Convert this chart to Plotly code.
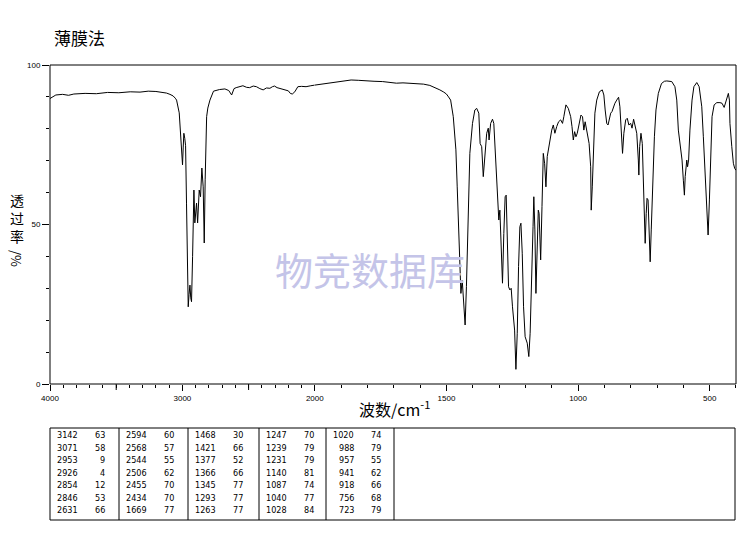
import plotly.graph_objects as go

# ---------------- spectrum data (wavenumber cm^-1, transmittance %) ----------------
wavenumber = [
    4000, 3956, 3905, 3860, 3820, 3735, 3650, 3565, 3480, 3394, 3320, 3258, 3200, 3156, 3120,
    3094, 3070, 3054, 3044, 3024, 3014, 3006, 2999, 2994, 2989, 2982, 2976, 2969, 2961, 2956,
    2950, 2943, 2937, 2931, 2923, 2913, 2906, 2900, 2893, 2885, 2873, 2863, 2853, 2843, 2835,
    2828, 2817, 2808, 2792, 2765, 2720, 2679, 2650, 2628, 2610, 2594, 2570, 2543, 2515, 2492,
    2465, 2441, 2415, 2390, 2365, 2339, 2320, 2304, 2285, 2270, 2245, 2219, 2200, 2185, 2170,
    2151, 2128, 2100, 2066, 2030, 2000,
    1970, 1948, 1920, 1896, 1862, 1835, 1810, 1775, 1742, 1715, 1690, 1665, 1639, 1610, 1587,
    1563, 1536, 1525, 1510, 1500, 1492, 1484, 1474, 1464, 1459, 1451, 1445, 1440, 1436, 1429,
    1424, 1416, 1411, 1401, 1392, 1385, 1377, 1372, 1366, 1360, 1354, 1347, 1341, 1338, 1332,
    1325, 1320, 1312, 1306, 1301, 1297, 1292, 1287, 1282, 1277, 1273, 1268, 1264, 1259, 1254,
    1249, 1241, 1236, 1231, 1226, 1221, 1217, 1212, 1207, 1201, 1193, 1187, 1182, 1176, 1171,
    1168, 1164, 1160, 1156, 1151, 1148, 1142, 1137, 1132, 1127, 1122, 1117, 1110, 1100, 1094,
    1088, 1081, 1074, 1066, 1059, 1054, 1046, 1037, 1028, 1023, 1018, 1013, 1008, 1003, 996,
    989, 983, 978, 973, 965, 958, 952, 950, 946, 942, 936, 929, 919, 908, 902,
    897, 891, 886, 881, 876, 871, 866, 860, 853, 846, 841, 836, 831, 826, 819,
    813, 807, 800, 795, 789, 784, 777, 771, 769, 766, 761, 756, 752, 748, 745,
    741, 738, 734, 732, 729, 726, 722, 717, 710, 704, 695, 683, 672, 663, 654,
    644, 632, 625, 619, 610, 605, 600, 596, 593, 587, 584, 580, 575, 567, 560,
    549, 540, 530, 524, 518, 511, 506, 501, 496, 491, 483, 473, 461, 453, 445,
    440, 435, 429, 425, 423, 416, 410, 405, 400,
]
transmittance = [
    89.5, 90.6, 90.8, 90.5, 90.9, 91.1, 91.0, 91.4, 91.3, 91.6, 91.5, 91.8, 91.7, 91.5, 91.2,
    90.8, 90.3, 89.6, 89.0, 85.0, 79.6, 72.4, 68.7, 74.0, 78.6, 77.0, 74.7, 56.7, 31.7, 24.2,
    28.0, 31.0, 27.0, 25.8, 39.9, 60.8, 50.5, 55.0, 56.7, 50.5, 60.8, 58.7, 67.7, 61.8, 44.2,
    64.0, 83.8, 86.5, 89.0, 91.8, 92.3, 92.5, 92.0, 90.6, 92.6, 92.9, 93.2, 93.5, 93.0, 92.9,
    93.4, 93.2, 92.6, 92.2, 92.8, 92.7, 93.2, 93.4, 92.9, 92.7, 92.5, 92.2, 91.9, 91.1, 90.9,
    91.6, 93.2, 93.3, 93.2, 93.5, 93.7,
    94.0, 94.3, 94.5, 94.8, 95.3, 95.2, 95.0, 94.9, 94.8, 94.6, 94.3, 94.4, 94.3, 94.1, 94.0,
    93.6, 92.7, 92.2, 91.5, 90.9, 90.0, 89.0, 83.8, 73.4, 61.8, 43.0, 28.4, 32.6, 27.4, 18.5,
    30.5, 53.5, 72.3, 81.7, 85.9, 86.4, 84.9, 75.4, 74.4, 65.0, 71.3, 78.6, 80.2, 76.5, 81.7,
    83.0, 81.7, 68.1, 55.6, 51.4, 54.5, 41.0, 31.6, 47.2, 58.7, 59.2, 46.2, 30.5, 29.5, 30.0,
    24.2, 16.9, 4.6, 15.9, 36.8, 49.3, 50.4, 41.0, 24.2, 14.8, 12.8, 8.6, 15.9, 30.5, 49.3,
    58.7, 48.3, 28.4, 43.0, 54.5, 53.5, 38.9, 55.6, 72.3, 69.2, 61.8, 71.3, 75.4, 79.6, 81.2,
    78.6, 80.7, 82.2, 82.8, 81.7, 83.8, 87.5, 86.4, 83.8, 80.7, 76.5, 79.1, 77.5, 78.6, 81.7,
    84.3, 83.8, 79.6, 82.2, 79.1, 75.4, 68.1, 54.5, 61.8, 74.4, 84.9, 89.0, 91.6, 92.2, 90.6,
    85.9, 81.7, 81.2, 83.3, 84.9, 85.4, 86.9, 88.0, 89.0, 89.9, 86.9, 79.6, 72.3, 78.6, 82.8,
    83.3, 81.2, 81.7, 80.2, 83.0, 81.2, 78.6, 70.2, 65.5, 74.4, 78.6, 75.4, 63.9, 51.4, 44.1,
    53.5, 58.2, 57.7, 51.4, 45.1, 38.3, 48.3, 63.9, 77.5, 85.9, 91.1, 94.2, 94.9, 95.0, 95.0,
    94.8, 93.2, 89.0, 79.6, 74.4, 70.2, 63.9, 59.2, 65.0, 70.2, 68.1, 70.2, 79.6, 89.0, 93.2,
    94.5, 93.2, 86.9, 77.5, 66.0, 55.6, 46.7, 57.7, 74.4, 83.8, 87.5, 88.2, 88.2, 88.0, 86.7,
    88.0, 89.6, 91.1, 89.0, 81.7, 74.4, 69.2, 67.6, 67.0,
]

# axis tick labels
left_tickvals = [4000, 3000, 2000]
left_ticktext = ["4000", "3000", "2000"]
right_tickvals = [1500, 1000, 500]
right_ticktext = ["1500", "1000", "500"]
y_tickvals = [0, 50, 100]
y_ticktext = ["0", "50", "100"]

# peak table (wavenumber, transmittance), column by column
table_wn = [
    [3142, 3071, 2953, 2926, 2854, 2846, 2631],
    [2594, 2568, 2544, 2506, 2455, 2434, 1669],
    [1468, 1421, 1377, 1366, 1345, 1293, 1263],
    [1247, 1239, 1231, 1140, 1087, 1040, 1028],
    [1020, 988, 957, 941, 918, 756, 723],
]
table_val = [
    [63, 58, 9, 4, 12, 53, 66],
    [60, 57, 55, 62, 70, 70, 77],
    [30, 66, 52, 66, 77, 77, 77],
    [70, 79, 79, 81, 74, 77, 84],
    [74, 79, 55, 62, 66, 68, 79],
]

title_text = "薄膜法"
x_title = "波数/cm<sup>-1</sup>"
y_title_upright = "透<br>过<br>率"
y_title_rotated = "/%"
watermark = "物竞数据库"

# ---------------- layout helpers (pixel -> paper) ----------------
W, H = 748, 539
L, R, T, B = 50, 12, 65, 155
PW, PH = W - L - R, H - T - B


def px(x):
    return (x - L) / PW


def py(y):
    return (H - B - y) / PH


SPLIT = 0.386  # fraction of the width used by 4000-2000 (compressed scale)

wl = [w for w in wavenumber if w >= 2000]
tl = [t for w, t in zip(wavenumber, transmittance) if w >= 2000]
wr = [w for w in wavenumber if w <= 2000]
tr = [t for w, t in zip(wavenumber, transmittance) if w <= 2000]

fig = go.Figure()
line_style = dict(color="black", width=1)
fig.add_trace(go.Scatter(x=wl, y=tl, mode="lines", line=line_style, xaxis="x", yaxis="y",
                         hoverinfo="skip"))
fig.add_trace(go.Scatter(x=wr, y=tr, mode="lines", line=line_style, xaxis="x2", yaxis="y",
                         hoverinfo="skip"))

tickfont = dict(family="Liberation Sans", size=8, color="black")
common_x = dict(
    showgrid=False, zeroline=False, showline=False, ticks="outside", ticklen=6,
    tickcolor="black", tickwidth=1, tickfont=tickfont, tickmode="array", anchor="y",
    automargin=False,
    minor=dict(tickmode="linear", tick0=0, dtick=100, ticks="outside", ticklen=3,
               tickcolor="black", tickwidth=1, showgrid=False),
)

fig.update_layout(
    width=W, height=H, autosize=False,
    margin=dict(l=L, r=R, t=T, b=B, pad=0),
    paper_bgcolor="white", plot_bgcolor="white",
    showlegend=False,
    xaxis=dict(domain=[0, SPLIT], range=[4000, 2000], tickvals=left_tickvals,
               ticktext=left_ticktext, **common_x),
    xaxis2=dict(domain=[SPLIT, 1], range=[2000, 400], tickvals=right_tickvals,
                ticktext=right_ticktext, **common_x),
    yaxis=dict(domain=[0, 1], range=[0, 100], tickmode="array", tickvals=y_tickvals,
               ticktext=y_ticktext, ticks="outside", ticklen=7, tickcolor="black",
               tickfont=tickfont, showgrid=False, zeroline=False, showline=False, anchor="x",
               automargin=False,
               minor=dict(tickmode="linear", tick0=0, dtick=10, ticks="outside", ticklen=3,
                          tickcolor="black", showgrid=False)),
)

shapes = [dict(type="rect", xref="paper", yref="paper", x0=0, x1=1, y0=0, y1=1,
               line=dict(color="black", width=1), layer="above")]
# longer unlabeled ticks at 3500 and 2500 on the compressed part
for wv in (3500, 2500):
    shapes.append(dict(type="line", xref="x", yref="paper", x0=wv, x1=wv, y0=0,
                       y1=-6 / PH, line=dict(color="black", width=1)))
# table frame
tbl_top, tbl_bot, tbl_right = 428, 520, 735
col_left = [50, 119, 188, 259, 326]
shapes.append(dict(type="rect", xref="paper", yref="paper", x0=px(50), x1=px(tbl_right),
                   y0=py(tbl_bot), y1=py(tbl_top), line=dict(color="black", width=1)))
for xl in col_left[1:] + [394]:
    shapes.append(dict(type="line", xref="paper", yref="paper", x0=px(xl), x1=px(xl),
                       y0=py(tbl_bot), y1=py(tbl_top), line=dict(color="black", width=1)))

ann = []
cjk = "Noto Sans CJK SC"
ann.append(dict(text=title_text, x=px(52), y=py(38), xref="paper", yref="paper",
                xanchor="left", yanchor="middle", showarrow=False,
                font=dict(family=cjk, size=17, color="black")))
ann.append(dict(text=y_title_upright, x=px(17), y=py(218), xref="paper", yref="paper",
                xanchor="center", yanchor="middle", showarrow=False,
                font=dict(family=cjk, size=14, color="black")))
ann.append(dict(text=y_title_rotated, x=px(17), y=py(258), xref="paper", yref="paper",
                xanchor="center", yanchor="middle", showarrow=False, textangle=90,
                font=dict(family=cjk, size=13, color="black")))
ann.append(dict(text=x_title, x=px(394), y=py(408), xref="paper", yref="paper",
                xanchor="center", yanchor="middle", showarrow=False,
                font=dict(family=cjk, size=16, color="black")))
ann.append(dict(text=watermark, x=px(370), y=py(268), xref="paper", yref="paper",
                xanchor="center", yanchor="middle", showarrow=False,
                font=dict(family=cjk, size=38, color="rgb(196,196,232)")))

mono = dict(family="DejaVu Sans Condensed, DejaVu Sans Mono", size=9, color="black")
for c, lft in enumerate(col_left):
    for r in range(7):
        yy = py(435 + 12.5 * r)
        ann.append(dict(text=str(table_wn[c][r]), x=px(lft + 30), y=yy, xref="paper",
                        yref="paper", xanchor="right", yanchor="middle", showarrow=False,
                        font=mono))
        ann.append(dict(text=str(table_val[c][r]), x=px(lft + 57), y=yy, xref="paper",
                        yref="paper", xanchor="right", yanchor="middle", showarrow=False,
                        font=mono))

fig.update_layout(shapes=shapes, annotations=ann)
fig.write_html(
    "out.html",
    config={"displayModeBar": False, "responsive": False},
    post_script="document.body.style.margin='0';document.body.style.overflow='hidden';",
)
